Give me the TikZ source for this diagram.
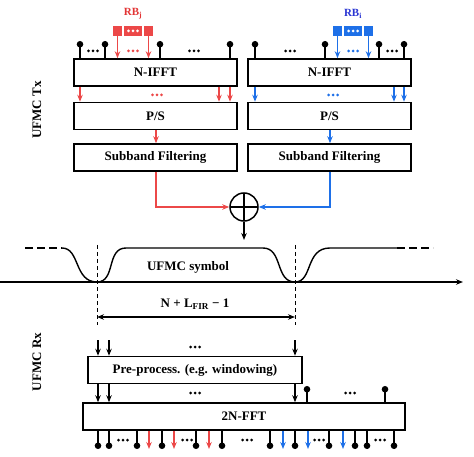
\documentclass[tikz,border=0pt]{standalone}
\usepackage{fontspec}
\setmainfont{Liberation Serif}
\usetikzlibrary{arrows.meta}
\definecolor{MyRed}{RGB}{236,72,72}
\definecolor{MyBlue}{RGB}{30,112,232}
\definecolor{LabRed}{RGB}{226,52,52}
\definecolor{LabBlue}{RGB}{40,52,210}
\newcommand{\lw}{1.5pt}
\newcommand{\tdots}[3][black]{\foreach \d in {-4.5,0,4.5} \fill[#1] (#2+\d,#3) circle (1.5);}

\begin{document}
\begin{tikzpicture}[x=1pt,y=-1pt,
  every node/.style={font=\fontsize{13}{15}\selectfont\bfseries},
  box/.style={draw, line width=\lw, minimum height=27, inner sep=0},
  arr/.style={-{Stealth[length=7pt,width=5.5pt]}, line width=1.4pt},
  pin/.style={-{Circle[length=6.5pt]}, line width=1.4pt},
  rb/.style={fill=#1, minimum height=10, inner sep=0},
  wave/.style={line width=1.4pt}]
  \useasboundingbox (0,0) rectangle (474,457);

  % transmitter
  \node[rotate=90] (txlab) at (37,110) {UFMC Tx};
  \node[box, minimum width=163] (ifftL) at (155.5,72.5) {N-IFFT};
  \node[box, minimum width=163] (ifftR) at (329.5,72.5) {N-IFFT};
  \node[box, minimum width=163] (psL)   at (155.5,116)  {P/S};
  \node[box, minimum width=163] (psR)   at (329.5,116)  {P/S};
  \node[box, minimum width=163] (sfL)   at (155.5,157.5) {Subband Filtering};
  \node[box, minimum width=163] (sfR)   at (329.5,157.5) {Subband Filtering};

  % resource blocks
  \node[rb=MyRed, minimum width=9]  (rbj1) at (117.5,31) {};
  \node[rb=MyRed, minimum width=18] (rbj2) at (133,31)   {};
  \node[rb=MyRed, minimum width=9]  (rbj3) at (148.5,31) {};
  \node[rb=MyBlue, minimum width=9]  (rbi1) at (337.5,31) {};
  \node[rb=MyBlue, minimum width=18] (rbi2) at (353,31)   {};
  \node[rb=MyBlue, minimum width=9]  (rbi3) at (368.5,31) {};
  \tdots[white]{133}{31}
  \tdots[white]{353}{31}
  \node[text=LabRed, font=\fontsize{11}{13}\selectfont\bfseries] (rbjlab) at (133,14) {RB\textsubscript{j}};
  \node[text=LabBlue, font=\fontsize{11}{13}\selectfont\bfseries] (rbilab) at (353,14) {RB\textsubscript{i}};
  \foreach \n in {1,3} {
    \draw[arr, MyRed] (rbj\n.south) -- (rbj\n.south |- ifftL.north);
    \draw[arr, MyBlue] (rbi\n.south) -- (rbi\n.south |- ifftR.north);
  }

  % subcarrier inputs
  \foreach \x in {80,105,160,230} \draw[pin] (\x,0 |- ifftL.north) -- (\x,41);
  \foreach \x in {255,325,379,404} \draw[pin] (\x,0 |- ifftR.north) -- (\x,41);
  \tdots{93}{51} \tdots{194}{51} \tdots[MyRed]{133}{51}
  \tdots{290}{51} \tdots{392}{51} \tdots[MyBlue]{353}{51}

  % IFFT -> P/S -> filter
  \foreach \x in {80,219,230} \draw[arr, MyRed] (\x,0 |- ifftL.south) -- (\x,0 |- psL.north);
  \foreach \x in {255,394,404} \draw[arr, MyBlue] (\x,0 |- ifftR.south) -- (\x,0 |- psR.north);
  \tdots[MyRed]{157}{95} \tdots[MyBlue]{333}{95}
  \draw[arr, MyRed] (156,0 |- psL.south) -- (156,0 |- sfL.north);
  \draw[arr, MyBlue] (330,0 |- psR.south) -- (330,0 |- sfR.north);

  % sum
  \node[circle, draw, line width=\lw, minimum size=28, inner sep=0,
    path picture={\draw[line width=\lw] (path picture bounding box.north) -- (path picture bounding box.south)
      (path picture bounding box.west) -- (path picture bounding box.east);}] (sum) at (244,207) {};
  \draw[arr, MyRed] (156,0 |- sfL.south) |- (sum.west);
  \draw[arr, MyBlue] (330,0 |- sfR.south) |- (sum.east);
  \coordinate (wavein) at (244,240);
  \draw[arr] (sum.south) -- (wavein);

  % time axis and symbol
  \coordinate (axs) at (0,282);
  \coordinate (axe) at (463,282);
  \draw[arr] (axs) -- (axe);
  \draw[wave, dash pattern=on 8pt off 4pt] (25,248) -- (62,248);
  \draw[wave] (62,248) .. controls (80,248) and (74,282) .. (97,282)
    .. controls (116,282) and (106,248) .. (126,248) -- (263,248)
    .. controls (283,248) and (275,282) .. (295,282)
    .. controls (313,282) and (305,248) .. (330,248) -- (397,248);
  \draw[wave, dash pattern=on 8pt off 4pt] (397,248) -- (433,248);
  \coordinate (s0t) at (97,245);  \coordinate (s0b) at (97,325);
  \coordinate (s1t) at (295,245); \coordinate (s1b) at (295,325);
  \draw[line width=1pt, dash pattern=on 4pt off 3pt] (s0t) -- (s0b);
  \draw[line width=1pt, dash pattern=on 4pt off 3pt] (s1t) -- (s1b);
  \coordinate (d0) at (97,317); \coordinate (d1) at (295,317);
  \draw[{Stealth[length=7pt,width=5.5pt]}-{Stealth[length=7pt,width=5.5pt]}, line width=1.4pt] (d0) -- (d1);
  \node (symlab) at (188,267) {UFMC symbol};
  \node (lenlab) at (195,304) {N + L\textsubscript{FIR} − 1};

  % receiver
  \node[rotate=90] (rxlab) at (37,362) {UFMC Rx};
  \node[box, minimum width=214] (pre) at (195,370)   {Pre-process. (e.g. windowing)};
  \node[box, minimum width=322] (fft) at (244,416.5) {2N-FFT};
  \foreach \x in {98,109,295} {
    \draw[arr] (\x,340) -- (\x,0 |- pre.north);
    \draw[arr] (\x,0 |- pre.south) -- (\x,0 |- fft.north);
  }
  \tdots{195}{347} \tdots{195}{393}
  \foreach \x in {307,385} \draw[pin] (\x,0 |- fft.north) -- (\x,386);
  \tdots{350}{393}
  \foreach \x in {98,109,137,162,196,222,270,295,329,355,367,394}
    \draw[pin] (\x,0 |- fft.south) -- (\x,449);
  \foreach \x in {149,174,209} \draw[arr, MyRed] (\x,0 |- fft.south) -- (\x,449);
  \foreach \x in {283,308,343} \draw[arr, MyBlue] (\x,0 |- fft.south) -- (\x,449);
  \foreach \x in {123,187,247,319,380} {\tdots{\x}{440}}
\end{tikzpicture}
\end{document}
